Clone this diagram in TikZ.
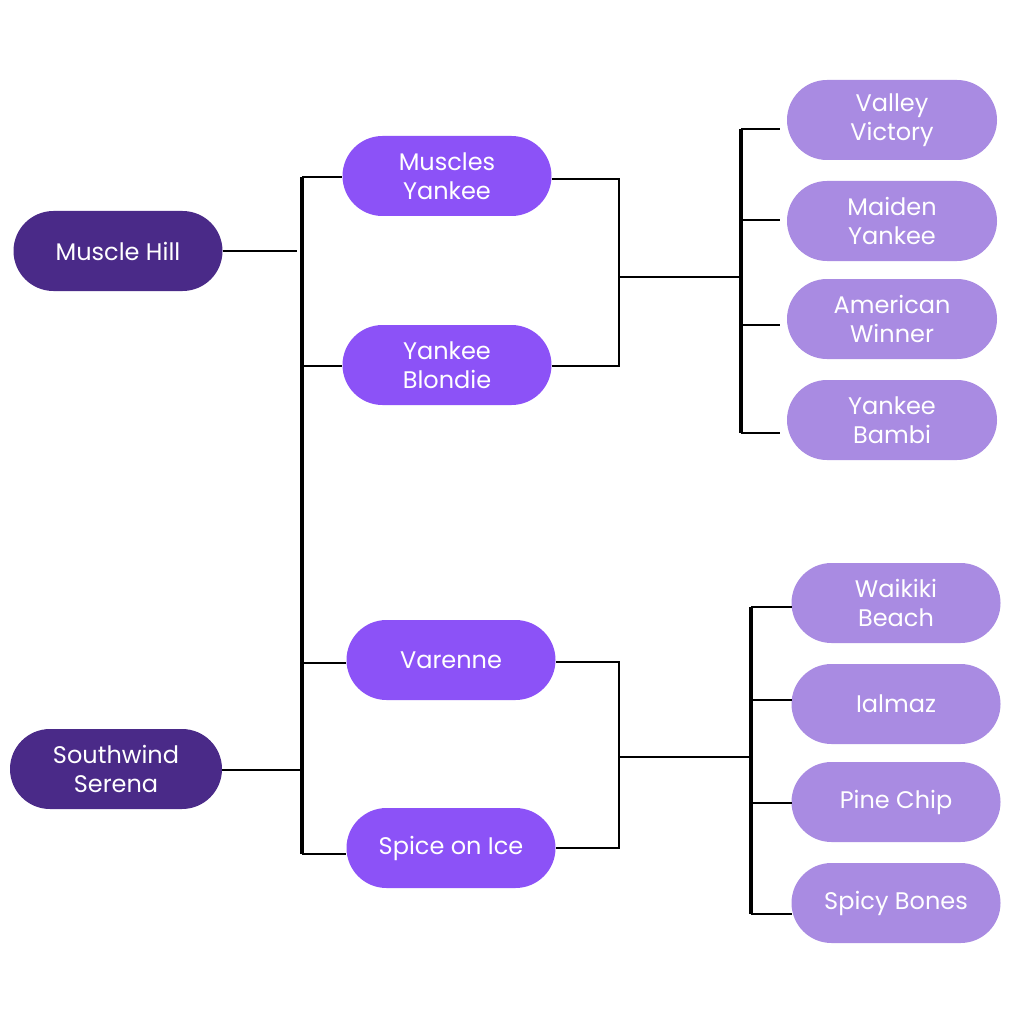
\documentclass[tikz,border=0pt]{standalone}
\usepackage{fontspec}
\setmainfont{Poppins}
\definecolor{dk}{HTML}{4A2A88}
\definecolor{md}{HTML}{8C52F7}
\definecolor{lt}{HTML}{A98BE2}
\begin{document}
\begin{tikzpicture}[x=1pt,y=-1pt,
 pill/.style={rounded corners=40pt,minimum width=209pt,minimum height=80pt,text=white,align=center,font=\fontsize{24}{29}\selectfont,inner sep=0pt},
 ln/.style={line width=2pt,black},
 bar/.style={line width=3.5pt,black}]
\useasboundingbox[fill=white] (0,0) rectangle (1024,1024);
\node[pill,fill=dk] (mh) at (118,251) {Muscle Hill};
\node[pill,fill=dk,minimum width=212pt] (ss) at (116,769) {Southwind\\Serena};
\node[pill,fill=md] (my) at (447,176) {Muscles\\Yankee};
\node[pill,fill=md] (yb) at (447,365) {Yankee\\Blondie};
\node[pill,fill=md] (va) at (451,660) {Varenne};
\node[pill,fill=md] (si) at (451,848) {Spice on Ice};
\node[pill,fill=lt,minimum width=210pt] (vv) at (892,120) {Valley\\Victory};
\node[pill,fill=lt,minimum width=210pt] (mdy) at (892,221) {Maiden\\Yankee};
\node[pill,fill=lt,minimum width=210pt] (aw) at (892,319) {American\\Winner};
\node[pill,fill=lt,minimum width=210pt] (ybm) at (892,420) {Yankee\\Bambi};
\node[pill,fill=lt] (wb) at (896,603) {Waikiki\\Beach};
\node[pill,fill=lt] (ia) at (896,704) {Ialmaz};
\node[pill,fill=lt] (pc) at (896,802) {Pine Chip};
\node[pill,fill=lt] (sb) at (896,903) {Spicy Bones};
% left
\coordinate (b1t) at (302,177); \coordinate (b1b) at (302,854);
\draw[bar] (b1t) -- (b1b);
\draw[ln] (mh.east) -- (297,251);
\draw[ln] (ss.east |- 0,770) -- (302,770);
\draw[ln] (302,177) -- (my.west |- 0,177);
\draw[ln] (302,366) -- (yb.west |- 0,366);
\draw[ln] (302,663) -- (va.west |- 0,663);
\draw[ln] (302,854) -- (si.west |- 0,854);
% upper
\draw[ln] (my.east |- 0,179) -- (619,179) -- (619,366) -- (yb.east |- 0,366);
\draw[ln] (619,277) -- (741,277);
\draw[bar] (741,129) -- (741,433);
\draw[ln] (741,129) -- (780,129);
\draw[ln] (741,220) -- (780,220);
\draw[ln] (741,325) -- (780,325);
\draw[ln] (741,433) -- (780,433);
% lower
\draw[ln] (va.east |- 0,662) -- (619,662) -- (619,848) -- (si.east |- 0,848);
\draw[ln] (619,757) -- (751,757);
\draw[bar] (751,607) -- (751,914);
\draw[ln] (751,607) -- (792,607);
\draw[ln] (751,700) -- (792,700);
\draw[ln] (751,803) -- (792,803);
\draw[ln] (751,914) -- (792,914);
\end{tikzpicture}
\end{document}
